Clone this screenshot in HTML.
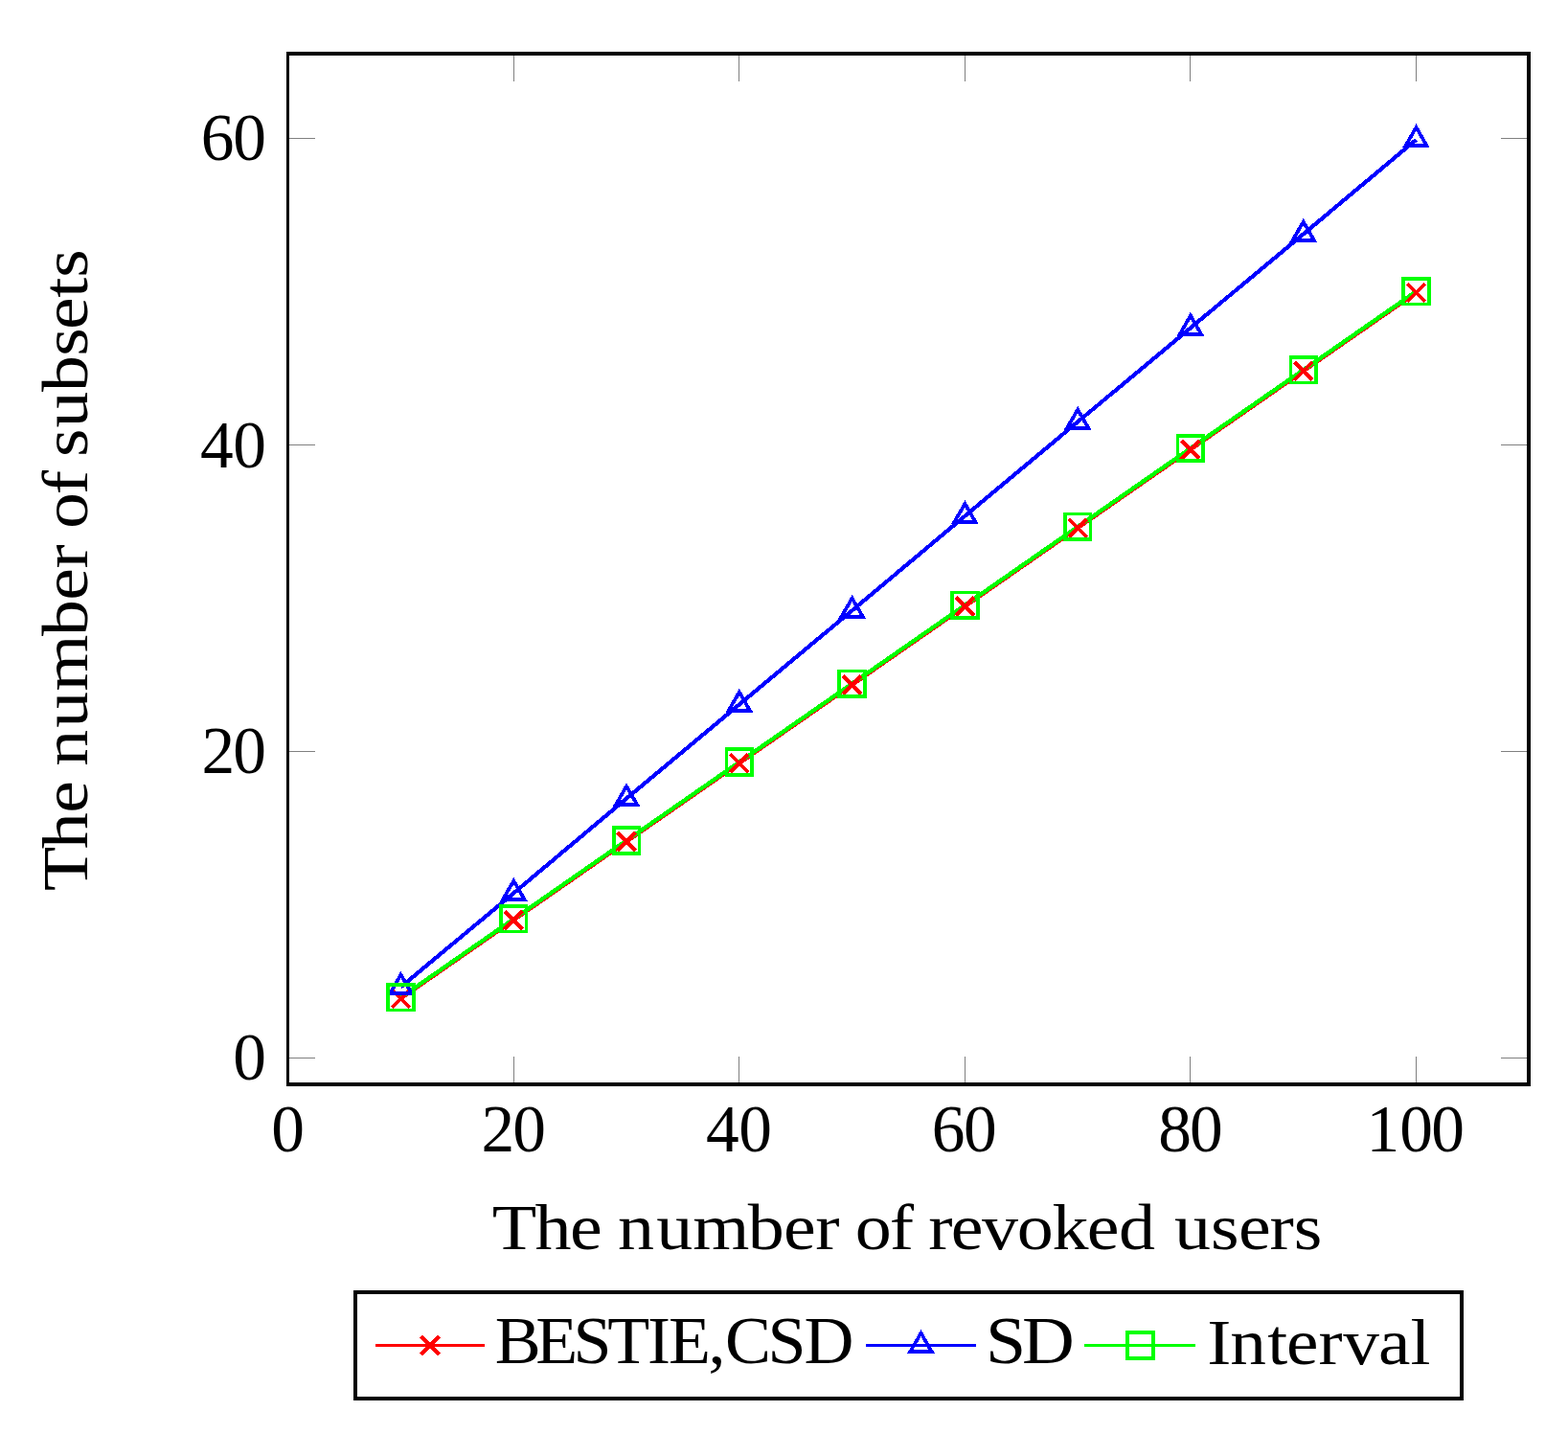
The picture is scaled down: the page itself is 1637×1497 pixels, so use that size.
<!DOCTYPE html>
<html lang="en"><head><meta charset="utf-8"><title>Chart</title>
<style>html,body{margin:0;padding:0;background:#fff;overflow:hidden;}svg{display:block;}</style></head>
<body>
<svg width="1637" height="1497" viewBox="0 0 1637 1497" font-family="'Liberation Serif', serif" font-size="100" fill="#000">
<rect width="1637" height="1497" fill="#fff"/>
<g id="ticks" fill="#808080" shape-rendering="crispEdges">
<rect x="536" y="58" width="1" height="27"/>
<rect x="536" y="1103" width="1" height="27"/>
<rect x="771" y="58" width="1" height="27"/>
<rect x="771" y="1103" width="1" height="27"/>
<rect x="1007" y="58" width="1" height="27"/>
<rect x="1007" y="1103" width="1" height="27"/>
<rect x="1242" y="58" width="1" height="27"/>
<rect x="1242" y="1103" width="1" height="27"/>
<rect x="1478" y="58" width="1" height="27"/>
<rect x="1478" y="1103" width="1" height="27"/>
<rect x="302" y="1104" width="27" height="1"/>
<rect x="1567" y="1104" width="27" height="1"/>
<rect x="302" y="784" width="27" height="1"/>
<rect x="1567" y="784" width="27" height="1"/>
<rect x="302" y="464" width="27" height="1"/>
<rect x="1567" y="464" width="27" height="1"/>
<rect x="302" y="144" width="27" height="1"/>
<rect x="1567" y="144" width="27" height="1"/>
</g>
<g id="axes" fill="#000" shape-rendering="crispEdges">
<rect x="299" y="54" width="1299" height="4"/>
<rect x="299" y="1130" width="1299" height="4"/>
<rect x="299" y="54" width="3" height="1080"/>
<rect x="1594" y="54" width="4" height="1080"/>
</g>
<g id="plots" shape-rendering="crispEdges">
<polyline points="418.50,1042.40 536.28,960.53 654.05,878.65 771.83,796.78 889.61,714.90 1007.39,633.03 1125.17,551.15 1242.94,469.28 1360.72,387.40 1478.50,305.53" fill="none" stroke="#f00" stroke-width="4.2" stroke-linejoin="round"/>
<polyline points="418.50,1030.35 536.28,932.35 654.05,833.60 771.83,735.35 889.61,637.35 1007.39,538.70 1125.17,440.35 1242.94,342.35 1360.72,244.35 1478.50,145.85" fill="none" stroke="#00f" stroke-width="4.2" stroke-linejoin="round"/>
<polyline points="418.50,1041.20 536.28,959.31 654.05,877.42 771.83,795.53 889.61,713.64 1007.39,631.76 1125.17,549.87 1242.94,467.98 1360.72,386.09 1478.50,304.20" fill="none" stroke="#0f0" stroke-width="4.2" stroke-linejoin="round"/>
<path d="M409.10 1033.00L427.90 1051.80M409.10 1051.80L427.90 1033.00" stroke="#f00" stroke-width="4.07" fill="none"/>
<path d="M526.88 951.13L545.67 969.92M526.88 969.92L545.67 951.13" stroke="#f00" stroke-width="4.07" fill="none"/>
<path d="M644.66 869.25L663.45 888.05M644.66 888.05L663.45 869.25" stroke="#f00" stroke-width="4.07" fill="none"/>
<path d="M762.43 787.38L781.23 806.17M762.43 806.17L781.23 787.38" stroke="#f00" stroke-width="4.07" fill="none"/>
<path d="M880.21 705.50L899.01 724.30M880.21 724.30L899.01 705.50" stroke="#f00" stroke-width="4.07" fill="none"/>
<path d="M997.99 623.63L1016.79 642.42M997.99 642.42L1016.79 623.63" stroke="#f00" stroke-width="4.07" fill="none"/>
<path d="M1115.77 541.75L1134.56 560.55M1115.77 560.55L1134.56 541.75" stroke="#f00" stroke-width="4.07" fill="none"/>
<path d="M1233.55 459.88L1252.34 478.67M1233.55 478.67L1252.34 459.88" stroke="#f00" stroke-width="4.07" fill="none"/>
<path d="M1351.32 378.00L1370.12 396.80M1351.32 396.80L1370.12 378.00" stroke="#f00" stroke-width="4.07" fill="none"/>
<path d="M1469.10 296.13L1487.90 314.92M1469.10 314.92L1487.90 296.13" stroke="#f00" stroke-width="4.07" fill="none"/>
<path d="M418.50 1017.50L407.37 1036.77L429.63 1036.77Z" stroke="#00f" stroke-width="3.75" fill="none" stroke-miterlimit="10"/>
<path d="M536.28 919.50L525.15 938.77L547.40 938.77Z" stroke="#00f" stroke-width="3.75" fill="none" stroke-miterlimit="10"/>
<path d="M654.05 820.75L642.93 840.02L665.18 840.02Z" stroke="#00f" stroke-width="3.75" fill="none" stroke-miterlimit="10"/>
<path d="M771.83 722.50L760.70 741.77L782.96 741.77Z" stroke="#00f" stroke-width="3.75" fill="none" stroke-miterlimit="10"/>
<path d="M889.61 624.50L878.48 643.77L900.74 643.77Z" stroke="#00f" stroke-width="3.75" fill="none" stroke-miterlimit="10"/>
<path d="M1007.39 525.85L996.26 545.12L1018.52 545.12Z" stroke="#00f" stroke-width="3.75" fill="none" stroke-miterlimit="10"/>
<path d="M1125.17 427.50L1114.04 446.78L1136.29 446.78Z" stroke="#00f" stroke-width="3.75" fill="none" stroke-miterlimit="10"/>
<path d="M1242.94 329.50L1231.82 348.78L1254.07 348.78Z" stroke="#00f" stroke-width="3.75" fill="none" stroke-miterlimit="10"/>
<path d="M1360.72 231.50L1349.59 250.78L1371.85 250.78Z" stroke="#00f" stroke-width="3.75" fill="none" stroke-miterlimit="10"/>
<path d="M1478.50 133.00L1467.37 152.28L1489.63 152.28Z" stroke="#00f" stroke-width="3.75" fill="none" stroke-miterlimit="10"/>
<path fill="#0f0" fill-rule="evenodd" d="M403 1026H434V1056H403ZM407 1030H430V1053H407Z"/>
<path fill="#0f0" fill-rule="evenodd" d="M521 944H551V974H521ZM525 948H548V971H525Z"/>
<path fill="#0f0" fill-rule="evenodd" d="M639 862H669V893H639ZM643 866H666V889H643Z"/>
<path fill="#0f0" fill-rule="evenodd" d="M757 780H787V811H757ZM760 784H783V807H760Z"/>
<path fill="#0f0" fill-rule="evenodd" d="M874 699H905V729H874ZM878 702H901V725H878Z"/>
<path fill="#0f0" fill-rule="evenodd" d="M992 617H1023V647H992ZM996 620H1019V643H996Z"/>
<path fill="#0f0" fill-rule="evenodd" d="M1110 535H1140V565H1110ZM1114 538H1137V561H1114Z"/>
<path fill="#0f0" fill-rule="evenodd" d="M1228 453H1258V483H1228ZM1231 457H1254V479H1231Z"/>
<path fill="#0f0" fill-rule="evenodd" d="M1346 371H1376V401H1346ZM1349 375H1372V398H1349Z"/>
<path fill="#0f0" fill-rule="evenodd" d="M1463 289H1494V319H1463ZM1467 293H1490V316H1467Z"/>
</g>
<g id="ticklabels">
<text transform="matrix(0.6940 0 0 0.7010 0 166.71)" x="302.1 350.4" y="0">60</text>
<text transform="matrix(0.6940 0 0 0.7010 0 487.61)" x="301.2 350.4" y="0">40</text>
<text transform="matrix(0.6940 0 0 0.7010 0 806.76)" x="303.3 350.4" y="0">20</text>
<text transform="matrix(0.6940 0 0 0.7010 0 1126.76)" x="350.4" y="0">0</text>
<text transform="matrix(0.6940 0 0 0.7010 0 1201.71)" x="408.0" y="0">0</text>
<text transform="matrix(0.6940 0 0 0.7010 0 1201.71)" x="724.1 771.3" y="0">20</text>
<text transform="matrix(0.6940 0 0 0.7010 0 1202.01)" x="1061.8 1111.2" y="0">40</text>
<text transform="matrix(0.6940 0 0 0.7010 0 1201.71)" x="1401.6 1449.6" y="0">60</text>
<text transform="matrix(0.6940 0 0 0.7010 0 1201.71)" x="1742.3 1789.6" y="0">80</text>
<text transform="matrix(0.6940 0 0 0.7010 0 1202.01)" x="2055.6 2105.7 2153.0" y="0">100</text>
</g>
<g id="labels">
<text transform="matrix(0.7606 0 0 0.6760 0 1303.90)" x="675.3 734.3 782.2 829.7 848.0 900.8 951.0 1026.5 1075.4 1119.2 1158.2 1173.9 1221.0 1259.0 1274.5 1305.3 1347.5 1396.1 1444.4 1492.0 1535.5 1592.0 1611.9 1661.7 1700.0 1742.8 1776.0" y="0">The number of revoked users</text>
<text transform="matrix(0 -0.7583 0.6760 0 91.00 0)" x="-1226.6 -1168.6 -1119.4 -1072.4 -1054.7 -1001.8 -951.4 -875.7 -826.7 -782.7 -743.6 -727.9 -680.7 -642.7 -628.9 -588.9 -539.5 -490.3 -453.8 -409.7 -382.1" y="0">The number of subsets</text>
</g>
<g id="legend">
<g fill="#000" shape-rendering="crispEdges">
<rect x="369" y="1347" width="1159" height="4"/>
<rect x="369" y="1458" width="1159" height="4"/>
<rect x="369" y="1347" width="4" height="115"/>
<rect x="1524" y="1347" width="4" height="115"/>
</g>
<g shape-rendering="crispEdges">
<rect x="392" y="1403" width="114" height="3" fill="#f00"/>
<path d="M439.60 1395.10L458.40 1413.90M439.60 1413.90L458.40 1395.10" stroke="#f00" stroke-width="4.07" fill="none"/>
<rect x="904" y="1403" width="115" height="3" fill="#00f"/>
<path d="M961.50 1391.65L950.37 1410.92L972.63 1410.92Z" stroke="#00f" stroke-width="3.75" fill="none" stroke-miterlimit="10"/>
<rect x="1132" y="1403" width="116" height="3" fill="#0f0"/>
<path fill="#0f0" fill-rule="evenodd" d="M1175 1389H1206V1420H1175ZM1179 1393H1202V1416H1179Z"/>
</g>
<text transform="matrix(0.7194 0 0 0.7000 0 1423.00)" x="718.4 777.3 831.8 881.5 939.7 970.1 1028.0 1052.3 1114.0 1166.9" y="0">BESTIE,CSD</text>
<text transform="matrix(0.7579 0 0 0.7000 0 1423.00)" x="1357.8 1408.0" y="0">SD</text>
<text transform="matrix(0.7533 0 0 0.6860 0 1423.90)" x="1673.0 1704.7 1756.7 1782.9 1827.2 1861.4 1910.2 1954.8" y="0">Interval</text>
</g>
</svg>
</body></html>
